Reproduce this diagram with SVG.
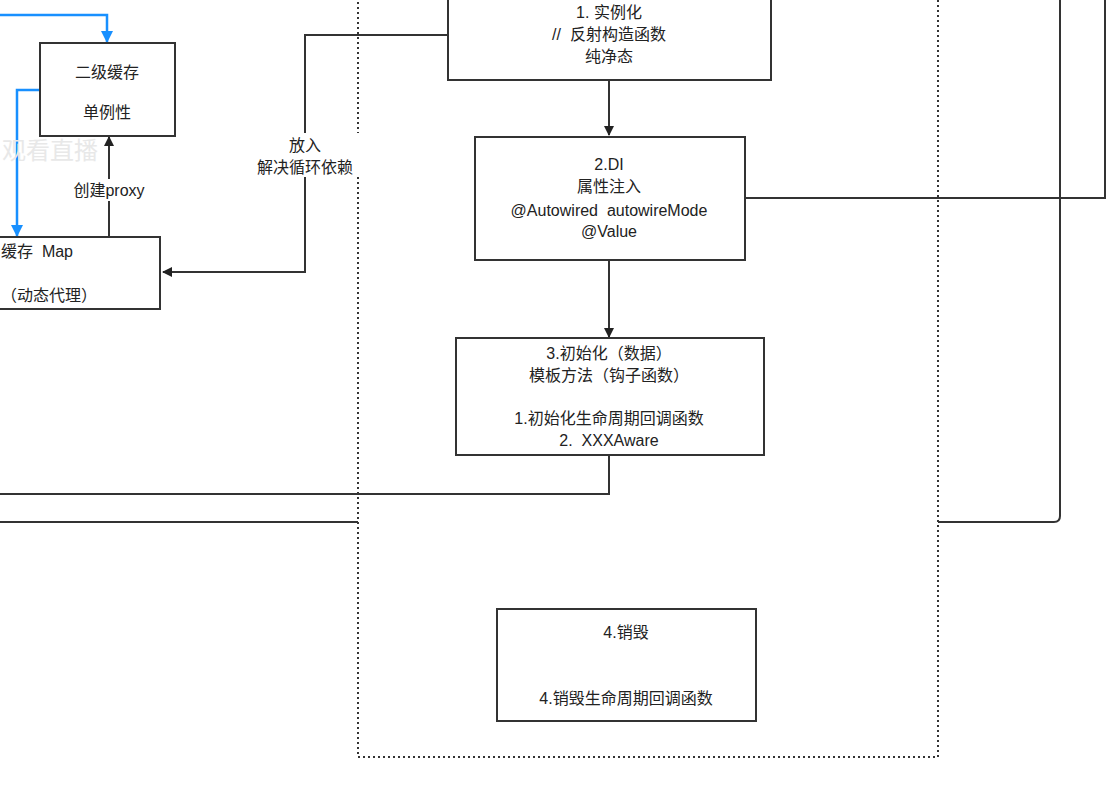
<svg xmlns="http://www.w3.org/2000/svg" width="1109" height="809" viewBox="0 0 1109 809">
<style>
.box{fill:#fff;stroke:#333;stroke-width:2}
.ln{fill:none;stroke:#333;stroke-width:2}
.bl{fill:none;stroke:#1890ff;stroke-width:2.5}
text{font-family:"Liberation Sans","Noto Sans CJK SC",sans-serif;font-size:16px;fill:#222;text-anchor:middle;white-space:pre}
</style>
<defs>
<marker id="a" markerWidth="10" markerHeight="10" refX="9" refY="5" orient="auto" markerUnits="userSpaceOnUse"><path d="M0,0 L10,5 L0,10 Z" fill="#222"/></marker>
<marker id="b" markerWidth="12" markerHeight="12" refX="11" refY="6" orient="auto" markerUnits="userSpaceOnUse"><path d="M0,0 L12,6 L0,12 Z" fill="#1890ff"/></marker>
</defs>
<rect width="1109" height="809" fill="#fff"/>
<rect x="358" y="-20" width="580" height="777" fill="none" stroke="#333" stroke-width="2" stroke-dasharray="2,3"/>
<g id="connectors">
<path class="ln" d="M609,80 V135" marker-end="url(#a)"/>
<path class="ln" d="M609,260 V337" marker-end="url(#a)"/>
<path class="ln" d="M609,455 V494 H0"/>
<path class="ln" d="M0,522 H358"/>
<path class="ln" d="M938,522 H1054 Q1060,522 1060,516 V0"/>
<path class="ln" d="M745,198 H1105 V0"/>
<path class="ln" d="M448,35 H305 V272 H163" marker-end="url(#a)"/>
<path class="ln" d="M109,237 V137" marker-end="url(#a)"/>
<path class="bl" d="M0,15 H107 V42" marker-end="url(#b)"/>
<path class="bl" d="M40,90 H17 V236" marker-end="url(#b)"/>
<rect x="248" y="133" width="114" height="44" fill="#fff"/>
<text x="305" y="151">放入</text>
<text x="305" y="173">解决循环依赖</text>
<rect x="64" y="179" width="92" height="22" fill="#fff"/>
<text x="109" y="196">创建proxy</text>
</g>
<text x="2" y="159" style="text-anchor:start;font-size:24px;fill:#e8e8e8">观看直播</text>
<g id="n1"><rect class="box" x="448" y="-10" width="323" height="90"/>
<text x="609" y="18">1. 实例化</text><text x="609" y="40">//  反射构造函数</text><text x="609" y="62">纯净态</text></g>
<g id="n2"><rect class="box" x="475" y="137" width="270" height="123"/>
<text x="609" y="170">2.DI</text><text x="609" y="192">属性注入</text><text x="609" y="216">@Autowired  autowireMode</text><text x="609" y="237">@Value</text></g>
<g id="n3"><rect class="box" x="456" y="338" width="308" height="117"/>
<text x="609" y="359">3.初始化（数据）</text><text x="609" y="381">模板方法（钩子函数）</text><text x="609" y="424">1.初始化生命周期回调函数</text><text x="609" y="446">2.  XXXAware</text></g>
<g id="n4"><rect class="box" x="497" y="609" width="259" height="112"/>
<text x="626" y="638">4.销毁</text><text x="626" y="704">4.销毁生命周期回调函数</text></g>
<g id="n5"><rect class="box" x="40" y="43" width="135" height="93"/>
<text x="107" y="78">二级缓存</text><text x="107" y="118">单例性</text></g>
<g id="n6"><rect class="box" x="-10" y="237" width="170" height="72"/>
<text x="1" y="257" style="text-anchor:start">缓存  Map</text><text x="1" y="301" style="text-anchor:start">（动态代理）</text></g>
</svg>
